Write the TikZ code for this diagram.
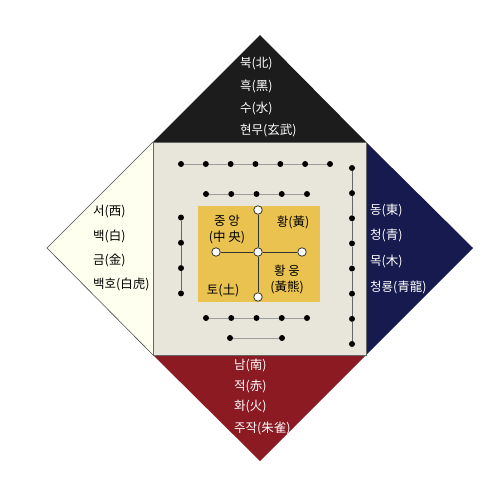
\documentclass[tikz,border=0pt]{standalone}
\usepackage{fontspec}
\setmainfont{Noto Sans CJK KR}
\definecolor{bukcol}{HTML}{1C1C1C}
\definecolor{dongcol}{HTML}{161A4E}
\definecolor{namcol}{HTML}{8C1A23}
\definecolor{seocol}{HTML}{FFFFF0}
\definecolor{squarecol}{HTML}{E8E6DA}
\definecolor{goldcol}{HTML}{E9C24F}
\definecolor{rowcol}{HTML}{9C9C9C}
\definecolor{colcol}{HTML}{666666}
\tikzset{
  dot/.style={circle,fill=black,inner sep=0pt,minimum size=6pt},
  ring/.style={circle,draw=black!80,fill=white,line width=0.8pt,inner sep=0pt,minimum size=8.5pt},
  lbl/.style={anchor=west,inner sep=0pt,font=\fontsize{12.5}{15}\selectfont},
  glbl/.style={align=center,inner sep=0pt,font=\fontsize{12.5}{16}\selectfont},
  rowline/.style={draw=rowcol,line width=1pt},
  colline/.style={draw=colcol,line width=1pt},
}
\begin{document}
\begin{tikzpicture}[x=1pt,y=-1pt]
\useasboundingbox (0,0) rectangle (500,500);
% diamond and square
\coordinate (T) at (260,35);
\coordinate (R) at (473,248);
\coordinate (B) at (260,461);
\coordinate (L) at (47,248);
\coordinate (q1) at (153,142);
\coordinate (q2) at (366,142);
\coordinate (q3) at (366,355);
\coordinate (q4) at (153,355);
\fill[bukcol] (q1) -- (T) -- (q2) -- cycle;
\fill[dongcol] (q2) -- (R) -- (q3) -- cycle;
\fill[namcol] (q3) -- (B) -- (q4) -- cycle;
\fill[seocol] (q4) -- (L) -- (q1) -- cycle;
\draw[black!70,line width=0.6pt] (q1) -- (L) -- (q4);
\draw[draw=black!60,fill=squarecol,line width=0.8pt] (q1) rectangle (q3);
\fill[goldcol] (198,206) rectangle (320,302);
% dots
\foreach \i in {0,...,6} \node[dot] (a\i) at (181+24.83*\i,164) {};
\foreach \i in {0,...,4} \node[dot] (b\i) at (206+25.25*\i,194) {};
\foreach \i in {0,...,7} \node[dot] (c\i) at (352,168+25.14*\i) {};
\foreach \i in {0,...,3} \node[dot] (d\i) at (181,217.5+25.3*\i) {};
\foreach \i in {0,...,4} \node[dot] (e\i) at (206+25.25*\i,318) {};
\node[dot] (f0) at (230,338) {};
\node[dot] (f1) at (282,338) {};
\foreach \i [evaluate=\i as \j using int(\i+1)] in {0,...,5} \draw[rowline] (a\i) -- (a\j);
\foreach \i [evaluate=\i as \j using int(\i+1)] in {0,...,3} {
  \draw[rowline] (b\i) -- (b\j);
  \draw[rowline] (e\i) -- (e\j);
}
\foreach \i [evaluate=\i as \j using int(\i+1)] in {0,...,6} \draw[colline] (c\i) -- (c\j);
\foreach \i [evaluate=\i as \j using int(\i+1)] in {0,...,2} \draw[colline] (d\i) -- (d\j);
\draw[rowline] (f0) -- (f1);
% centre cross
\node[ring] (mid) at (258,252) {};
\node[ring] (up) at (258,210) {};
\node[ring] (down) at (258,297) {};
\node[ring] (left) at (216,252) {};
\node[ring] (right) at (302,252) {};
\foreach \n in {up,down,left,right} \draw[black!80,line width=1pt] (mid) -- (\n);
\node[glbl] (jungang) at (227,230) {중 앙\\(中 央)};
\node[glbl] (hwang) at (293,222) {황(黃)};
\node[glbl] (hwangung) at (287,280) {황 웅\\(黃熊)};
\node[glbl] (to) at (223,290) {토(土)};
% four quarters
\foreach \t [count=\i] in {{북(北)},{흑(黑)},{수(水)},{현무(玄武)}}
  \node[lbl,text=white] (buk\i) at (240,42+22*\i) {\t};
\foreach \t [count=\i] in {{동(東)},{청(青)},{목(木)},{청룡(青龍)}}
  \node[lbl,text=white] (dong\i) at (370,184.3+25.7*\i) {\t};
\foreach \t [count=\i] in {{남(南)},{적(赤)},{화(火)},{주작(朱雀)}}
  \node[lbl,text=white] (nam\i) at (234,344+21*\i) {\t};
\foreach \t [count=\i] in {{서(西)},{백(白)},{금(金)},{백호(白虎)}}
  \node[lbl] (seo\i) at (93,187.7+24.3*\i) {\t};
\end{tikzpicture}
\end{document}
